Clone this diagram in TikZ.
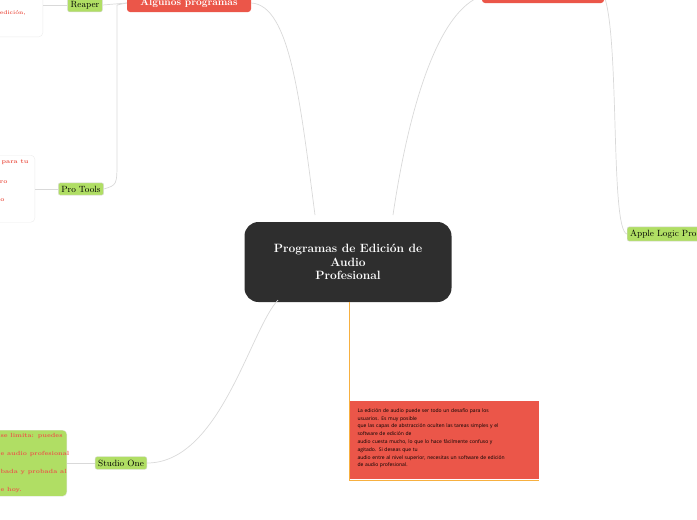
\documentclass[tikz,border=0pt]{standalone}
\usepackage{fontspec}
\setsansfont{Open Sans}
\begin{document}
\begin{tikzpicture}[x=1pt,y=-1pt,
 con/.style={draw=black!15,line width=0.7pt},
 grn/.style={draw=black!15,rounded corners=2pt,font=\fontsize{9}{10}\selectfont,inner sep=3pt,text=black},
 redb/.style={rounded corners=3pt,text=white,font=\bfseries\fontsize{10}{11}\selectfont}]
\useasboundingbox (0,0) rectangle (697,520);
\definecolor{gr}{HTML}{B0DE64}
\definecolor{rd}{HTML}{EB5649}
\definecolor{or}{HTML}{F7B040}
\tikzset{grn/.append style={fill=gr},redb/.append style={fill=rd}}
% notes
\node[draw=black!8,rounded corners=4pt,minimum width=60pt,minimum height=50pt,anchor=south east] (rn) at (43,37) {};
\node[text=rd,font=\bfseries\fontsize{5.5}{6}\selectfont,anchor=east] at (29,13) {edición,};
\node[draw=black!8,rounded corners=4pt,minimum width=60pt,minimum height=67pt,anchor=north east] (pn) at (35,155) {};
\node[text=rd,font=\bfseries\fontsize{6}{7}\selectfont,anchor=east] at (32,162) {al para tu};
\node[text=rd,font=\bfseries\fontsize{6}{7}\selectfont,anchor=east] at (11,181) {Pro};
\node[text=rd,font=\bfseries\fontsize{6}{7}\selectfont,anchor=east] at (8,199) {ão};
\node[draw=black!10,fill=gr,rounded corners=4pt,minimum width=90pt,minimum height=66pt,anchor=north east] (sn) at (67,430) {};
\foreach \t/\y in {se limita: puedes/436, {e audio profesional}/454, {bada y probada al}/472, {e hoy.}/490}
 \node[text=rd,font=\bfseries\fontsize{6}{7}\selectfont,anchor=west] at (-3,\y) {\t};
% central
\node[fill=black!82,rounded corners=14pt,minimum width=207pt,minimum height=80pt,text=white,font=\bfseries\fontsize{12}{13.5}\selectfont,align=center] (c) at (348,262) {Programas de Edición de\\Audio\\Profesional};
\node[redb,minimum width=124pt,minimum height=18pt] (alg) at (189,3) {Algunos programas};
\node[redb,minimum width=122pt,minimum height=14pt] (rt) at (543,-4) {};
\node[grn] (rea) at (85,5) {Reaper};
\node[grn] (pro) at (81,189) {Pro Tools};
\node[grn] (stu) at (121,463) {Studio One};
\node[grn,anchor=west] (app) at (627,234) {Apple Logic Pro};
% red text box
\node[fill=rd,minimum width=190pt,minimum height=78pt,anchor=north west,inner sep=0pt] (tb) at (349,401) {};
\node[anchor=north west,align=left,text width=185pt,font=\sffamily\fontsize{5}{7.8}\selectfont,text=black] at (354,405) {La edición de audio puede ser todo un desafío para los\\usuarios. Es muy posible\\que las capas de abstracción oculten las tareas simples y el\\software de edición de\\audio cuesta mucho, lo que lo hace fácilmente confuso y\\agitado. Si deseas que tu\\audio entre al nivel superior, necesitas un software de edición\\de audio profesional.};
\draw[or,line width=1pt] (349,302) -- (349,480) -- (539,480);
% connectors
\draw[con] (315,215) .. controls (300,100) and (290,5) .. (alg.east);
\draw[con] (393,215) .. controls (410,100) and (440,10) .. (rt.west);
\draw[con] (rt.east) .. controls (620,40) and (610,230) .. (app.west);
\draw[con] (alg.west) -- (117,5) -- (117,160) .. controls (117,185) .. (pro.east);
\draw[con] (rea.east) -- (alg.west);
\draw[con] (rea.west) -- (43,5);
\draw[con] (pro.west) -- (35,189);
\draw[con] (stu.west) -- (67,463);
\draw[con] (stu.east) .. controls (220,463) and (250,330) .. (278,300);
\end{tikzpicture}
\end{document}
